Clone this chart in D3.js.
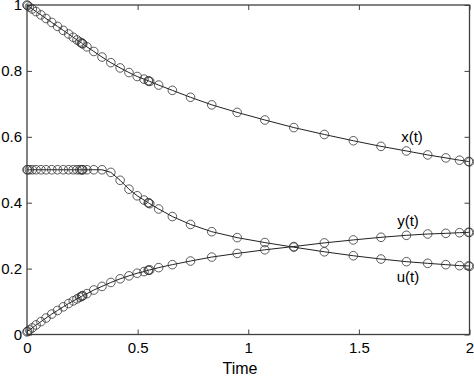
<!DOCTYPE html>
<html>
<head>
<meta charset="utf-8">
<script src="https://cdn.jsdelivr.net/npm/d3@7"></script>
<style>
  body { margin: 0; background: #fff; }
  svg { display: block; font-family: "Liberation Sans", Arial, sans-serif; }
</style>
</head>
<body>
<svg id="chart" width="474" height="377"></svg>
<script>
// collocation times
const time = [0, 0.003, 0.011, 0.024, 0.041, 0.063, 0.086, 0.112, 0.138, 0.164, 0.188, 0.209, 0.226, 0.239, 0.247, 0.25,
  0.252, 0.271, 0.302, 0.339, 0.379, 0.421, 0.461, 0.498, 0.529, 0.548, 0.55,
  0.555, 0.595, 0.657, 0.739, 0.835, 0.95, 1.075, 1.206, 1.344, 1.475, 1.6, 1.715, 1.811, 1.893, 1.955, 1.995, 2.0]

const xState = [1.0, 0.998, 0.994, 0.988, 0.980, 0.970, 0.959, 0.947, 0.935, 0.923, 0.912, 0.902, 0.894, 0.888, 0.885, 0.883,
  0.882, 0.873, 0.859, 0.842, 0.825, 0.809, 0.795, 0.783, 0.775, 0.770, 0.769,
  0.768, 0.757, 0.741, 0.720, 0.697, 0.674, 0.651, 0.628, 0.607, 0.588, 0.571, 0.557, 0.545, 0.536, 0.529, 0.525, 0.524]

const yState = [0.008, 0.010, 0.014, 0.020, 0.029, 0.039, 0.050, 0.062, 0.073, 0.084, 0.094, 0.102, 0.108, 0.113, 0.116, 0.117,
  0.118, 0.124, 0.135, 0.146, 0.158, 0.169, 0.178, 0.186, 0.191, 0.195, 0.195,
  0.196, 0.203, 0.212, 0.223, 0.235, 0.246, 0.257, 0.267, 0.278, 0.287, 0.295, 0.301, 0.305, 0.307, 0.309, 0.310, 0.310]

const uCtrl = [0.5, 0.5, 0.5, 0.5, 0.5, 0.5, 0.5, 0.5, 0.5, 0.5, 0.5, 0.5, 0.5, 0.5, 0.5, 0.5,
  0.5, 0.5, 0.5, 0.5, 0.492, 0.468, 0.441, 0.421, 0.408, 0.400, 0.399,
  0.397, 0.381, 0.358, 0.334, 0.312, 0.294, 0.279, 0.265, 0.251, 0.239, 0.229, 0.221, 0.216, 0.212, 0.209, 0.208, 0.207]

const seriesNames = ['x(t)', 'y(t)', 'u(t)']
const xTicks = [0, 0.5, 1, 1.5, 2]
const xTickLabels = ['0', '0.5', '1', '1.5', '2']
const yTicks = [0, 0.2, 0.4, 0.6, 0.8, 1]
const yTickLabels = ['0', '0.2', '0.4', '0.6', '0.8', '1']
const xTitle = 'Time'

const plotLeft = 27, plotRight = 469.5, plotTop = 5, plotBottom = 334.5
const axisColor = '#404040'

const svg = d3.select('#chart')
const xScale = d3.scaleLinear().domain([0, 2]).range([plotLeft, plotRight])
const yScale = d3.scaleLinear().domain([0, 1]).range([plotBottom, plotTop])

// axes, ticks pointing inward like matlab
const styleAxis = g => {
  g.select('.domain').remove()
  g.selectAll('line').attr('stroke', axisColor).attr('stroke-width', 1)
  g.selectAll('text').attr('fill', '#000').style('font-size', '15px')
    .style('font-family', '"Liberation Sans", Arial, sans-serif')
}

svg.append('g')
  .attr('transform', 'translate(0,' + plotBottom + ')')
  .call(d3.axisBottom(xScale).tickValues(xTicks).tickFormat((d, i) => xTickLabels[i])
    .tickSizeInner(-5).tickSizeOuter(0).tickPadding(8))
  .call(styleAxis)

svg.append('g')
  .attr('transform', 'translate(0,' + plotTop + ')')
  .call(d3.axisTop(xScale).tickValues(xTicks).tickFormat('')
    .tickSizeInner(-5).tickSizeOuter(0))
  .call(styleAxis)

svg.append('g')
  .attr('transform', 'translate(' + plotLeft + ',0)')
  .call(d3.axisLeft(yScale).tickValues(yTicks).tickFormat((d, i) => yTickLabels[i])
    .tickSizeInner(-5).tickSizeOuter(0).tickPadding(5))
  .call(styleAxis)

svg.append('g')
  .attr('transform', 'translate(' + plotRight + ',0)')
  .call(d3.axisRight(yScale).tickValues(yTicks).tickFormat('')
    .tickSizeInner(-5).tickSizeOuter(0))
  .call(styleAxis)

svg.append('rect')
  .attr('x', plotLeft).attr('y', plotTop)
  .attr('width', plotRight - plotLeft).attr('height', plotBottom - plotTop)
  .attr('fill', 'none')
  .attr('stroke', axisColor)
  .attr('stroke-width', 1.3)

svg.append('text')
  .attr('x', 240).attr('y', 374)
  .attr('text-anchor', 'middle')
  .style('font-size', '16px')
  .text(xTitle)

const allSeries = [xState, yState, uCtrl]

const line = d3.line()
  .x((d, i) => xScale(time[i]))
  .y(d => yScale(d))

allSeries.forEach(vals => {
  svg.append('path')
    .datum(vals)
    .attr('d', line)
    .attr('fill', 'none')
    .attr('stroke', '#222')
    .attr('stroke-width', 1)

  svg.append('g')
    .selectAll('circle')
    .data(vals)
    .enter()
    .append('circle')
    .attr('cx', (d, i) => xScale(time[i]))
    .attr('cy', d => yScale(d))
    .attr('r', 4.3)
    .attr('fill', 'none')
    .attr('stroke', '#333')
    .attr('stroke-width', 0.8)
})

// curve labels
const labelPos = [[412, 0.584], [408, 0.328], [408, 0.160]]
seriesNames.forEach((name, i) => {
  svg.append('text')
    .attr('x', labelPos[i][0])
    .attr('y', yScale(labelPos[i][1]))
    .attr('text-anchor', 'middle')
    .style('font-size', '15px')
    .text(name)
})
</script>
</body>
</html>
